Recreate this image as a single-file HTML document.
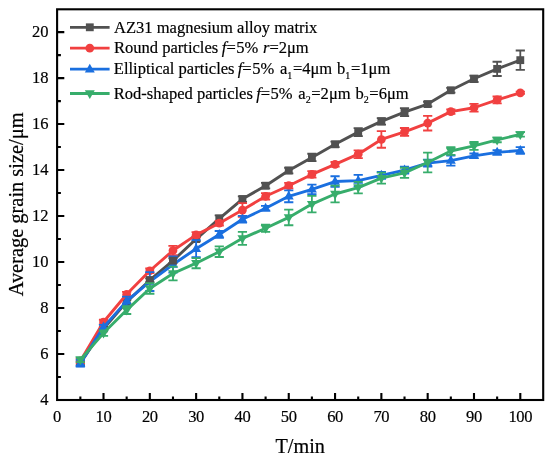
<!DOCTYPE html>
<html lang="en"><head><meta charset="utf-8"><title>Average grain size vs T</title>
<style>html,body{margin:0;padding:0;background:#fff}body{width:550px;height:461px;overflow:hidden}</style></head>
<body>
<svg width="550" height="461" viewBox="0 0 550 461" style="display:block">
<rect width="550" height="461" fill="#ffffff"/>
<path d="M57.10 377.01h3.8 M57.10 354.01h7.2 M57.10 331.02h3.8 M57.10 308.02h7.2 M57.10 285.03h3.8 M57.10 262.04h7.2 M57.10 239.04h3.8 M57.10 216.05h7.2 M57.10 193.06h3.8 M57.10 170.06h7.2 M57.10 147.07h3.8 M57.10 124.07h7.2 M57.10 101.08h3.8 M57.10 78.09h7.2 M57.10 55.09h3.8 M57.10 32.10h7.2 M80.36 400.00v-3.6 M103.51 400.00v-7.0 M126.66 400.00v-3.6 M149.82 400.00v-7.0 M172.98 400.00v-3.6 M196.13 400.00v-7.0 M219.28 400.00v-3.6 M242.44 400.00v-7.0 M265.60 400.00v-3.6 M288.75 400.00v-7.0 M311.90 400.00v-3.6 M335.06 400.00v-7.0 M358.21 400.00v-3.6 M381.37 400.00v-7.0 M404.52 400.00v-3.6 M427.68 400.00v-7.0 M450.83 400.00v-3.6 M473.99 400.00v-7.0 M497.14 400.00v-3.6 M520.30 400.00v-7.0" stroke="#000" stroke-width="2.1" fill="none"/>
<rect x="57.1" y="9.3" width="486.10" height="390.70" fill="none" stroke="#000" stroke-width="2.1"/>
<g>
<polyline points="80.36,363.21 103.51,328.72 126.66,301.82 149.82,280.20 172.98,260.66 196.13,239.04 219.28,218.58 242.44,199.03 265.60,185.70 288.75,170.52 311.90,157.42 335.06,144.31 358.21,132.12 381.37,121.32 404.52,112.12 427.68,104.07 450.83,90.27 473.99,78.78 497.14,68.89 520.30,60.15" fill="none" stroke="#515151" stroke-width="2.9" stroke-linejoin="round"/>
<path d="M80.36 361.37V365.05M75.76 361.37h9.2M75.76 365.05h9.2 M103.51 326.88V330.56M98.91 326.88h9.2M98.91 330.56h9.2 M126.66 299.98V303.66M122.06 299.98h9.2M122.06 303.66h9.2 M149.82 278.36V282.04M145.22 278.36h9.2M145.22 282.04h9.2 M172.98 258.36V262.96M168.38 258.36h9.2M168.38 262.96h9.2 M196.13 236.74V241.34M191.53 236.74h9.2M191.53 241.34h9.2 M219.28 215.36V221.80M214.68 215.36h9.2M214.68 221.80h9.2 M242.44 196.28V201.79M237.84 196.28h9.2M237.84 201.79h9.2 M265.60 182.94V188.46M261.00 182.94h9.2M261.00 188.46h9.2 M288.75 167.76V173.28M284.15 167.76h9.2M284.15 173.28h9.2 M311.90 153.74V161.09M307.30 153.74h9.2M307.30 161.09h9.2 M335.06 141.55V147.07M330.46 141.55h9.2M330.46 147.07h9.2 M358.21 128.21V136.03M353.61 128.21h9.2M353.61 136.03h9.2 M381.37 118.10V124.53M376.77 118.10h9.2M376.77 124.53h9.2 M404.52 108.21V116.03M399.92 108.21h9.2M399.92 116.03h9.2 M427.68 101.77V106.37M423.08 101.77h9.2M423.08 106.37h9.2 M450.83 87.97V92.57M446.23 87.97h9.2M446.23 92.57h9.2 M473.99 75.56V82.00M469.39 75.56h9.2M469.39 82.00h9.2 M497.14 61.76V76.02M492.54 61.76h9.2M492.54 76.02h9.2 M520.30 50.49V69.81M515.70 50.49h9.2M515.70 69.81h9.2" stroke="#515151" stroke-width="1.8" fill="none"/>
<rect x="76.43" y="359.29" width="7.84" height="7.84" fill="#515151"/>
<rect x="99.59" y="324.80" width="7.84" height="7.84" fill="#515151"/>
<rect x="122.74" y="297.89" width="7.84" height="7.84" fill="#515151"/>
<rect x="145.90" y="276.28" width="7.84" height="7.84" fill="#515151"/>
<rect x="169.05" y="256.74" width="7.84" height="7.84" fill="#515151"/>
<rect x="192.21" y="235.12" width="7.84" height="7.84" fill="#515151"/>
<rect x="215.36" y="214.66" width="7.84" height="7.84" fill="#515151"/>
<rect x="238.52" y="195.11" width="7.84" height="7.84" fill="#515151"/>
<rect x="261.67" y="181.78" width="7.84" height="7.84" fill="#515151"/>
<rect x="284.83" y="166.60" width="7.84" height="7.84" fill="#515151"/>
<rect x="307.98" y="153.49" width="7.84" height="7.84" fill="#515151"/>
<rect x="331.14" y="140.39" width="7.84" height="7.84" fill="#515151"/>
<rect x="354.29" y="128.20" width="7.84" height="7.84" fill="#515151"/>
<rect x="377.45" y="117.39" width="7.84" height="7.84" fill="#515151"/>
<rect x="400.60" y="108.20" width="7.84" height="7.84" fill="#515151"/>
<rect x="423.76" y="100.15" width="7.84" height="7.84" fill="#515151"/>
<rect x="446.91" y="86.35" width="7.84" height="7.84" fill="#515151"/>
<rect x="470.07" y="74.86" width="7.84" height="7.84" fill="#515151"/>
<rect x="493.22" y="64.97" width="7.84" height="7.84" fill="#515151"/>
<rect x="516.38" y="56.23" width="7.84" height="7.84" fill="#515151"/>
</g>
<g>
<polyline points="80.36,360.91 103.51,322.05 126.66,294.23 149.82,270.78 172.98,250.54 196.13,234.90 219.28,223.18 242.44,210.07 265.60,196.28 288.75,185.70 311.90,174.43 335.06,164.31 358.21,154.20 381.37,139.48 404.52,131.89 427.68,123.16 450.83,111.66 473.99,107.75 497.14,99.93 520.30,92.80" fill="none" stroke="#F14040" stroke-width="2.9" stroke-linejoin="round"/>
<path d="M80.36 358.61V363.21M75.76 358.61h9.2M75.76 363.21h9.2 M103.51 319.75V324.35M98.91 319.75h9.2M98.91 324.35h9.2 M126.66 291.93V296.53M122.06 291.93h9.2M122.06 296.53h9.2 M149.82 268.48V273.07M145.22 268.48h9.2M145.22 273.07h9.2 M172.98 245.94V255.14M168.38 245.94h9.2M168.38 255.14h9.2 M196.13 232.15V237.66M191.53 232.15h9.2M191.53 237.66h9.2 M219.28 220.88V225.48M214.68 220.88h9.2M214.68 225.48h9.2 M242.44 203.17V216.97M237.84 203.17h9.2M237.84 216.97h9.2 M265.60 193.06V199.49M261.00 193.06h9.2M261.00 199.49h9.2 M288.75 182.94V188.46M284.15 182.94h9.2M284.15 188.46h9.2 M311.90 171.21V177.65M307.30 171.21h9.2M307.30 177.65h9.2 M335.06 162.01V166.61M330.46 162.01h9.2M330.46 166.61h9.2 M358.21 150.29V158.11M353.61 150.29h9.2M353.61 158.11h9.2 M381.37 131.20V147.76M376.77 131.20h9.2M376.77 147.76h9.2 M404.52 127.98V135.80M399.92 127.98h9.2M399.92 135.80h9.2 M427.68 115.80V130.51M423.08 115.80h9.2M423.08 130.51h9.2 M450.83 109.36V113.96M446.23 109.36h9.2M446.23 113.96h9.2 M473.99 103.84V111.66M469.39 103.84h9.2M469.39 111.66h9.2 M497.14 96.48V103.38M492.54 96.48h9.2M492.54 103.38h9.2 M520.30 91.65V93.95M515.70 91.65h9.2M515.70 93.95h9.2" stroke="#F14040" stroke-width="1.8" fill="none"/>
<circle cx="80.36" cy="360.91" r="4.35" fill="#F14040"/>
<circle cx="103.51" cy="322.05" r="4.35" fill="#F14040"/>
<circle cx="126.66" cy="294.23" r="4.35" fill="#F14040"/>
<circle cx="149.82" cy="270.78" r="4.35" fill="#F14040"/>
<circle cx="172.98" cy="250.54" r="4.35" fill="#F14040"/>
<circle cx="196.13" cy="234.90" r="4.35" fill="#F14040"/>
<circle cx="219.28" cy="223.18" r="4.35" fill="#F14040"/>
<circle cx="242.44" cy="210.07" r="4.35" fill="#F14040"/>
<circle cx="265.60" cy="196.28" r="4.35" fill="#F14040"/>
<circle cx="288.75" cy="185.70" r="4.35" fill="#F14040"/>
<circle cx="311.90" cy="174.43" r="4.35" fill="#F14040"/>
<circle cx="335.06" cy="164.31" r="4.35" fill="#F14040"/>
<circle cx="358.21" cy="154.20" r="4.35" fill="#F14040"/>
<circle cx="381.37" cy="139.48" r="4.35" fill="#F14040"/>
<circle cx="404.52" cy="131.89" r="4.35" fill="#F14040"/>
<circle cx="427.68" cy="123.16" r="4.35" fill="#F14040"/>
<circle cx="450.83" cy="111.66" r="4.35" fill="#F14040"/>
<circle cx="473.99" cy="107.75" r="4.35" fill="#F14040"/>
<circle cx="497.14" cy="99.93" r="4.35" fill="#F14040"/>
<circle cx="520.30" cy="92.80" r="4.35" fill="#F14040"/>
</g>
<g>
<polyline points="80.36,363.21 103.51,327.11 126.66,301.13 149.82,281.58 172.98,264.57 196.13,248.70 219.28,234.44 242.44,219.27 265.60,208.23 288.75,196.28 311.90,189.38 335.06,181.56 358.21,180.64 381.37,175.35 404.52,170.06 427.68,163.16 450.83,160.64 473.99,155.81 497.14,152.36 520.30,150.52" fill="none" stroke="#1A6FDF" stroke-width="2.9" stroke-linejoin="round"/>
<path d="M80.36 359.76V366.66M75.76 359.76h9.2M75.76 366.66h9.2 M103.51 324.81V329.41M98.91 324.81h9.2M98.91 329.41h9.2 M126.66 296.53V305.73M122.06 296.53h9.2M122.06 305.73h9.2 M149.82 272.15V291.01M145.22 272.15h9.2M145.22 291.01h9.2 M172.98 256.52V272.61M168.38 256.52h9.2M168.38 272.61h9.2 M196.13 240.19V257.21M191.53 240.19h9.2M191.53 257.21h9.2 M219.28 231.00V237.89M214.68 231.00h9.2M214.68 237.89h9.2 M242.44 215.82V222.72M237.84 215.82h9.2M237.84 222.72h9.2 M265.60 205.93V210.53M261.00 205.93h9.2M261.00 210.53h9.2 M288.75 190.30V202.25M284.15 190.30h9.2M284.15 202.25h9.2 M311.90 184.55V194.21M307.30 184.55h9.2M307.30 194.21h9.2 M335.06 176.27V186.85M330.46 176.27h9.2M330.46 186.85h9.2 M358.21 174.89V186.39M353.61 174.89h9.2M353.61 186.39h9.2 M381.37 171.90V178.80M376.77 171.90h9.2M376.77 178.80h9.2 M404.52 166.61V173.51M399.92 166.61h9.2M399.92 173.51h9.2 M427.68 159.72V166.61M423.08 159.72h9.2M423.08 166.61h9.2 M450.83 155.58V165.69M446.23 155.58h9.2M446.23 165.69h9.2 M473.99 153.51V158.11M469.39 153.51h9.2M469.39 158.11h9.2 M497.14 150.06V154.66M492.54 150.06h9.2M492.54 154.66h9.2 M520.30 147.07V153.97M515.70 147.07h9.2M515.70 153.97h9.2" stroke="#1A6FDF" stroke-width="1.8" fill="none"/>
<polygon points="75.37,366.39 85.34,366.39 80.36,357.70" fill="#1A6FDF"/>
<polygon points="98.53,330.29 108.49,330.29 103.51,321.60" fill="#1A6FDF"/>
<polygon points="121.68,304.31 131.65,304.31 126.66,295.61" fill="#1A6FDF"/>
<polygon points="144.84,284.76 154.80,284.76 149.82,276.07" fill="#1A6FDF"/>
<polygon points="167.99,267.75 177.96,267.75 172.98,259.05" fill="#1A6FDF"/>
<polygon points="191.15,251.88 201.11,251.88 196.13,243.19" fill="#1A6FDF"/>
<polygon points="214.30,237.62 224.27,237.62 219.28,228.93" fill="#1A6FDF"/>
<polygon points="237.46,222.45 247.42,222.45 242.44,213.76" fill="#1A6FDF"/>
<polygon points="260.61,211.41 270.58,211.41 265.60,202.72" fill="#1A6FDF"/>
<polygon points="283.77,199.46 293.73,199.46 288.75,190.76" fill="#1A6FDF"/>
<polygon points="306.92,192.56 316.89,192.56 311.90,183.87" fill="#1A6FDF"/>
<polygon points="330.08,184.74 340.04,184.74 335.06,176.05" fill="#1A6FDF"/>
<polygon points="353.23,183.82 363.20,183.82 358.21,175.13" fill="#1A6FDF"/>
<polygon points="376.39,178.53 386.35,178.53 381.37,169.84" fill="#1A6FDF"/>
<polygon points="399.54,173.24 409.51,173.24 404.52,164.55" fill="#1A6FDF"/>
<polygon points="422.70,166.34 432.66,166.34 427.68,157.65" fill="#1A6FDF"/>
<polygon points="445.85,163.82 455.82,163.82 450.83,155.12" fill="#1A6FDF"/>
<polygon points="469.01,158.99 478.97,158.99 473.99,150.29" fill="#1A6FDF"/>
<polygon points="492.16,155.54 502.13,155.54 497.14,146.85" fill="#1A6FDF"/>
<polygon points="515.32,153.70 525.28,153.70 520.30,145.01" fill="#1A6FDF"/>
<rect x="145.90" y="276.28" width="7.84" height="7.84" fill="#515151"/>
<rect x="169.05" y="256.74" width="7.84" height="7.84" fill="#515151"/>
</g>
<g>
<polyline points="80.36,359.76 103.51,333.09 126.66,310.09 149.82,288.48 172.98,273.53 196.13,263.19 219.28,251.69 242.44,238.35 265.60,228.24 288.75,217.43 311.90,204.09 335.06,193.98 358.21,187.54 381.37,178.11 404.52,172.82 427.68,162.47 450.83,150.98 473.99,145.92 497.14,139.94 520.30,134.42" fill="none" stroke="#37AD6B" stroke-width="2.9" stroke-linejoin="round"/>
<path d="M80.36 357.46V362.06M75.76 357.46h9.2M75.76 362.06h9.2 M103.51 330.33V335.85M98.91 330.33h9.2M98.91 335.85h9.2 M126.66 306.19V314.00M122.06 306.19h9.2M122.06 314.00h9.2 M149.82 283.19V293.77M145.22 283.19h9.2M145.22 293.77h9.2 M172.98 266.64V280.43M168.38 266.64h9.2M168.38 280.43h9.2 M196.13 258.13V268.25M191.53 258.13h9.2M191.53 268.25h9.2 M219.28 246.40V256.98M214.68 246.40h9.2M214.68 256.98h9.2 M242.44 231.92V244.79M237.84 231.92h9.2M237.84 244.79h9.2 M265.60 224.56V231.92M261.00 224.56h9.2M261.00 231.92h9.2 M288.75 209.61V225.25M284.15 209.61h9.2M284.15 225.25h9.2 M311.90 195.82V212.37M307.30 195.82h9.2M307.30 212.37h9.2 M335.06 185.58V202.37M330.46 185.58h9.2M330.46 202.37h9.2 M358.21 181.79V193.29M353.61 181.79h9.2M353.61 193.29h9.2 M381.37 172.59V183.63M376.77 172.59h9.2M376.77 183.63h9.2 M404.52 167.76V177.88M399.92 167.76h9.2M399.92 177.88h9.2 M427.68 152.59V172.36M423.08 152.59h9.2M423.08 172.36h9.2 M450.83 147.07V154.89M446.23 147.07h9.2M446.23 154.89h9.2 M473.99 142.01V149.83M469.39 142.01h9.2M469.39 149.83h9.2 M497.14 137.64V142.24M492.54 137.64h9.2M492.54 142.24h9.2 M520.30 132.12V136.72M515.70 132.12h9.2M515.70 136.72h9.2" stroke="#37AD6B" stroke-width="1.8" fill="none"/>
<polygon points="75.37,356.58 85.34,356.58 80.36,365.27" fill="#37AD6B"/>
<polygon points="98.53,329.91 108.49,329.91 103.51,338.60" fill="#37AD6B"/>
<polygon points="121.68,306.91 131.65,306.91 126.66,315.61" fill="#37AD6B"/>
<polygon points="144.84,285.30 154.80,285.30 149.82,293.99" fill="#37AD6B"/>
<polygon points="167.99,270.35 177.96,270.35 172.98,279.05" fill="#37AD6B"/>
<polygon points="191.15,260.01 201.11,260.01 196.13,268.70" fill="#37AD6B"/>
<polygon points="214.30,248.51 224.27,248.51 219.28,257.20" fill="#37AD6B"/>
<polygon points="237.46,235.17 247.42,235.17 242.44,243.87" fill="#37AD6B"/>
<polygon points="260.61,225.06 270.58,225.06 265.60,233.75" fill="#37AD6B"/>
<polygon points="283.77,214.25 293.73,214.25 288.75,222.94" fill="#37AD6B"/>
<polygon points="306.92,200.91 316.89,200.91 311.90,209.61" fill="#37AD6B"/>
<polygon points="330.08,190.80 340.04,190.80 335.06,199.49" fill="#37AD6B"/>
<polygon points="353.23,184.36 363.20,184.36 358.21,193.05" fill="#37AD6B"/>
<polygon points="376.39,174.93 386.35,174.93 381.37,183.62" fill="#37AD6B"/>
<polygon points="399.54,169.64 409.51,169.64 404.52,178.33" fill="#37AD6B"/>
<polygon points="422.70,159.29 432.66,159.29 427.68,167.99" fill="#37AD6B"/>
<polygon points="445.85,147.80 455.82,147.80 450.83,156.49" fill="#37AD6B"/>
<polygon points="469.01,142.74 478.97,142.74 473.99,151.43" fill="#37AD6B"/>
<polygon points="492.16,136.76 502.13,136.76 497.14,145.45" fill="#37AD6B"/>
<polygon points="515.32,131.24 525.28,131.24 520.30,139.93" fill="#37AD6B"/>
</g>
<line x1="70" y1="27.3" x2="109.6" y2="27.3" stroke="#515151" stroke-width="2.8"/>
<rect x="85.88" y="23.38" width="7.84" height="7.84" fill="#515151"/>
<line x1="70" y1="48.2" x2="109.6" y2="48.2" stroke="#F14040" stroke-width="2.8"/>
<circle cx="89.80" cy="48.20" r="4.35" fill="#F14040"/>
<line x1="70" y1="69.2" x2="109.6" y2="69.2" stroke="#1A6FDF" stroke-width="2.8"/>
<polygon points="84.82,72.38 94.78,72.38 89.80,63.69" fill="#1A6FDF"/>
<line x1="70" y1="93.5" x2="109.6" y2="93.5" stroke="#37AD6B" stroke-width="2.8"/>
<polygon points="84.82,90.32 94.78,90.32 89.80,99.01" fill="#37AD6B"/>
<g font-family="'Liberation Serif', 'Times New Roman', serif" font-size="16.55" fill="#000" stroke="#000" stroke-width="0.18">
<text x="114.0" y="32.5">AZ31 magnesium alloy matrix</text>
<text x="114.0" y="53.3">Round particles <tspan font-style="italic" dx="-0.5">f</tspan>=<tspan dx="0.4">5%</tspan> <tspan font-style="italic" dx="0.6">r</tspan>=2μm</text>
<text x="113.8" y="74.3">Elliptical particles <tspan font-style="italic" dx="-0.9">f</tspan>=<tspan dx="0.5">5%</tspan> <tspan dx="1.6">a</tspan><tspan font-size="10" dy="4.3">1</tspan><tspan dy="-4.3" dx="0.6">=</tspan>4μm <tspan dx="0.7">b</tspan><tspan font-size="10" dy="4.3">1</tspan><tspan dy="-4.3" dx="0.6">=</tspan>1μm</text>
<text x="113.8" y="98.5">Rod-shaped particles <tspan font-style="italic" dx="-0.9">f</tspan>=<tspan dx="0.5">5%</tspan> <tspan dx="1.6">a</tspan><tspan font-size="10" dy="4.3">2</tspan><tspan dy="-4.3" dx="0.6">=</tspan>2μm <tspan dx="0.7">b</tspan><tspan font-size="10" dy="4.3">2</tspan><tspan dy="-4.3" dx="0.6">=</tspan>6μm</text>
<text x="48.6" y="404.90" text-anchor="end">4</text>
<text x="48.6" y="358.91" text-anchor="end">6</text>
<text x="48.6" y="312.92" text-anchor="end">8</text>
<text x="48.6" y="266.94" text-anchor="end">10</text>
<text x="48.6" y="220.95" text-anchor="end">12</text>
<text x="48.6" y="174.96" text-anchor="end">14</text>
<text x="48.6" y="128.97" text-anchor="end">16</text>
<text x="48.6" y="82.99" text-anchor="end">18</text>
<text x="48.6" y="37.00" text-anchor="end">20</text>
<text x="57.20" y="421.5" text-anchor="middle" letter-spacing="0">0</text>
<text x="103.51" y="421.5" text-anchor="middle" letter-spacing="-0.35">10</text>
<text x="149.82" y="421.5" text-anchor="middle" letter-spacing="-0.35">20</text>
<text x="196.13" y="421.5" text-anchor="middle" letter-spacing="-0.35">30</text>
<text x="242.44" y="421.5" text-anchor="middle" letter-spacing="-0.35">40</text>
<text x="288.75" y="421.5" text-anchor="middle" letter-spacing="-0.35">50</text>
<text x="335.06" y="421.5" text-anchor="middle" letter-spacing="-0.35">60</text>
<text x="381.37" y="421.5" text-anchor="middle" letter-spacing="-0.35">70</text>
<text x="427.68" y="421.5" text-anchor="middle" letter-spacing="-0.35">80</text>
<text x="473.99" y="421.5" text-anchor="middle" letter-spacing="-0.35">90</text>
<text x="520.30" y="421.5" text-anchor="middle" letter-spacing="-0.35">100</text>
</g>
<g font-family="'Liberation Serif', 'Times New Roman', serif" font-size="20.2" fill="#000" stroke="#000" stroke-width="0.22">
<text x="300.2" y="453" text-anchor="middle">T/min</text>
<text transform="translate(23.2 204.4) rotate(-90)" text-anchor="middle" font-size="20.4">Average grain size/μm</text>
</g>
</svg>
</body></html>
